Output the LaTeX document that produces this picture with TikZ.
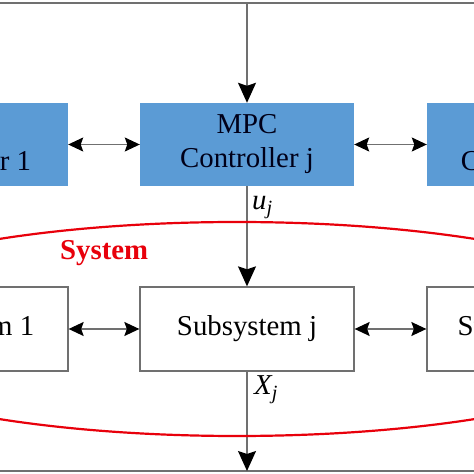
\documentclass[tikz,border=0pt]{standalone}
\usepackage{fontspec}
\setmainfont{Liberation Serif}
\usetikzlibrary{arrows.meta}
\definecolor{ctrlblue}{HTML}{5B9BD5}
\definecolor{linegray}{HTML}{707070}
\definecolor{sysred}{HTML}{E8000B}
\begin{document}
\begin{tikzpicture}[x=1pt,y=1pt,
  bigfont/.style={font=\fontsize{28.8}{34}\selectfont},
  ctrl/.style={bigfont, text=black!90!blue, fill=ctrlblue, draw=none, minimum width=214pt, minimum height=83pt, inner sep=0pt, align=center},
  subsys/.style={bigfont, fill=white, draw=linegray, line width=1.3pt, minimum width=214pt, minimum height=84pt, inner sep=0pt},
  link/.style={draw=linegray, line width=1.3pt},
  htip/.tip={Stealth[length=15pt,width=14pt,inset=2.5pt,color=black]},
  vtip/.tip={Stealth[length=20pt,width=18pt,inset=3pt,color=black]},
  dbl/.style={link, htip-htip},
  down/.style={link, -vtip},
  lab/.style={bigfont, anchor=base west, inner sep=0pt}
]
\useasboundingbox (0,0) rectangle (474,474);
\clip (0,0) rectangle (474,474);
\node[ctrl] (c1) at (-39,329.5) {MPC\\Controller 1};
\node[ctrl] (cj) at (247,329.5) {MPC\\Controller j};
\node[ctrl] (cn) at (534,329.5) {MPC\\Controller N};
\node[subsys] (s1) at (-39,145) {Subsystem 1};
\node[subsys] (sj) at (247,145) {Subsystem j};
\node[subsys] (sn) at (534,145) {Subsystem N};
\coordinate (tl) at (0,471);
\coordinate (tr) at (474,471);
\coordinate (topin) at (247,471);
\coordinate (bl) at (0,3);
\coordinate (br) at (474,3);
\coordinate (botout) at (247,3);
\draw[link] (tl) -- (tr);
\draw[link] (bl) -- (br);
\draw[down] (topin) -- (cj.north);
\draw[down] (cj.south) -- (sj.north);
\draw[down] (sj.south) -- (botout);
\draw[dbl] (c1.east) -- (cj.west);
\draw[dbl] (cj.east) -- (cn.west);
\draw[dbl] (s1.east) -- (sj.west);
\draw[dbl] (sj.east) -- (sn.west);
\draw[sysred, line width=2.2pt] (237,145) ellipse [x radius=440, y radius=107];
\node[lab] (ulab) at (252,264) {\itshape u\textsubscript{j}};
\node[lab] (xlab) at (254,79) {\itshape X\textsubscript{j}};
\node[lab, text=sysred, font=\fontsize{28.8}{34}\selectfont\bfseries] (syslab) at (60,214) {System};
\end{tikzpicture}
\end{document}
